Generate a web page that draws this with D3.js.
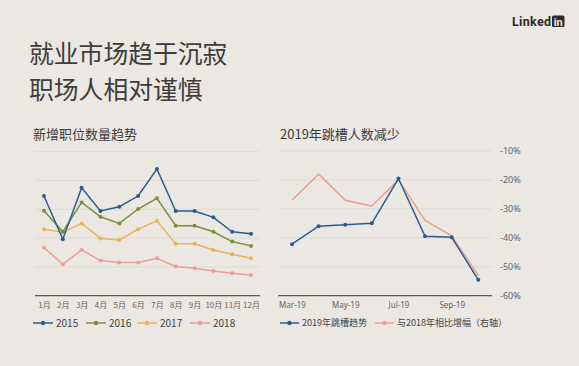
<!DOCTYPE html>
<html><head><meta charset="utf-8">
<script src="https://cdn.jsdelivr.net/npm/d3@7"></script>
<style>
html,body{margin:0;padding:0;background:#ebe7e2;}
svg{display:block;font-family:"Noto Sans CJK SC","Noto Sans",sans-serif;}
</style></head>
<body>
<svg id="c" width="579" height="366"></svg>
<script>
const months = ["1月","2月","3月","4月","5月","6月","7月","8月","9月","10月","11月","12月"];
const years = ["2015","2016","2017","2018"];
const s2015 = [3.46,1.96,3.75,2.94,3.09,3.46,4.40,2.94,2.94,2.72,2.22,2.15];
const s2016 = [2.95,2.22,3.24,2.74,2.51,3.01,3.38,2.43,2.43,2.22,1.88,1.73];
const s2017 = [2.31,2.20,2.51,1.99,1.93,2.31,2.60,1.80,1.80,1.59,1.44,1.30];
const s2018 = [1.67,1.09,1.59,1.22,1.15,1.15,1.30,1.01,0.95,0.86,0.78,0.72];
const rMonths = ["Mar-19","Apr-19","May-19","Jun-19","Jul-19","Aug-19","Sep-19","Oct-19"];
const rTickMonths = ["Mar-19","May-19","Jul-19","Sep-19"];
const trend2019 = [-42.2,-36.0,-35.5,-35.0,-19.5,-39.5,-39.8,-54.5];
const yoy2018 = [-27,-18,-27,-29,-20,-34,-39.3,-53];
const rTicks = [-10,-20,-30,-40,-50,-60];
const rSeriesNames = ["2019年跳槽趋势","与2018年相比增幅（右轴）"];
const titleLines = ["就业市场趋于沉寂","职场人相对谨慎"];

const colors = ["#2d5d90","#7c8f3b","#e8b455","#ec9f92"];
const rColors = ["#2d5d90","#eaa08f"];

const svg = d3.select("#c");
svg.append("rect").attr("width",579).attr("height",366).attr("fill","#ebe7e2");

// Title (one text block, two lines)
const title = svg.append("text").attr("x",29).attr("y",63).attr("font-size",24.8).attr("fill","#3d3d3d");
titleLines.forEach((t,i)=>title.append("tspan").attr("x",29).attr("dy",i===0?0:36.2).text(t));

// Logo
const logo = svg.append("g");
logo.append("text").attr("x",512).attr("y",26).attr("font-family","Roboto, 'Liberation Sans', sans-serif").attr("font-weight","bold").attr("font-size",12.5).attr("fill","#2b2b2b").attr("textLength",39).text("Linked");
logo.append("rect").attr("x",552).attr("y",15.5).attr("width",12.5).attr("height",11.5).attr("rx",1.5).attr("fill","#2b2b2b");
logo.append("text").attr("x",558.2).attr("y",25.5).attr("text-anchor","middle").attr("font-family","Roboto, 'Liberation Sans', sans-serif").attr("font-weight","bold").attr("font-size",11).attr("fill","#ebe7e2").text("in");

// Subtitles
svg.append("text").attr("x",33).attr("y",139).attr("font-size",13).attr("fill","#3b3b3b").text("新增职位数量趋势");
svg.append("text").attr("x",280).attr("y",139).attr("font-size",13).attr("fill","#3b3b3b").text("2019年跳槽人数减少");

// Left chart
const xL = d3.scalePoint().domain(months).range([44,251]);
const yL = d3.scaleLinear().domain([0,5]).range([295.7,151.7]);
const gL = svg.append("g");
gL.selectAll("line.grid").data([1,2,3,4,5]).join("line")
  .attr("x1",35).attr("x2",260).attr("y1",d=>yL(d)).attr("y2",d=>yL(d))
  .attr("stroke","#dcd7d1").attr("stroke-width",0.8);
const axL = gL.append("g").attr("transform",`translate(0,${yL(0)})`)
  .call(d3.axisBottom(xL).tickSize(0).tickPadding(5));
axL.select(".domain").attr("d","M35,0H260").attr("stroke","#5a5a5a").attr("stroke-width",1.2);
axL.selectAll("text").attr("font-size",8).attr("fill","#666").attr("font-family","'Noto Sans CJK SC',sans-serif").attr("dy","0.9em");

const seriesL = [s2015,s2016,s2017,s2018];
const lineL = d3.line().x((d,i)=>xL(months[i])).y(d=>yL(d));
[3,2,1,0].forEach(k=>{
  gL.append("path").datum(seriesL[k]).attr("d",lineL).attr("fill","none").attr("stroke",colors[k]).attr("stroke-width",1.5);
  gL.selectAll(null).data(seriesL[k]).join("circle").attr("cx",(d,i)=>xL(months[i])).attr("cy",d=>yL(d)).attr("r",2).attr("fill",colors[k]);
});

// Left legend
const legX = [33,86,137,190];
years.forEach((y,i)=>{
  const g = svg.append("g").attr("transform",`translate(${legX[i]},323)`);
  g.append("line").attr("x1",0).attr("x2",20).attr("stroke",colors[i]).attr("stroke-width",1.5);
  g.append("circle").attr("cx",10).attr("r",2.2).attr("fill",colors[i]);
  g.append("text").attr("x",23).attr("y",3.5).attr("font-size",10).attr("fill","#444").text(y);
});

// Right chart
const xR = d3.scalePoint().domain(rMonths).range([292,478.3]);
const yR = d3.scaleLinear().domain([-60,-10]).range([295.7,151]);
const gR = svg.append("g");
gR.selectAll("line.grid").data(rTicks.slice(0,5)).join("line")
  .attr("x1",278).attr("x2",492).attr("y1",d=>yR(d)).attr("y2",d=>yR(d))
  .attr("stroke","#dcd7d1").attr("stroke-width",0.8);
const axR = gR.append("g").attr("transform","translate(497,0)")
  .call(d3.axisRight(yR).tickValues(rTicks).tickFormat(d=>d+"%").tickSize(0).tickPadding(3));
axR.select(".domain").remove();
axR.selectAll("text").attr("font-size",9).attr("fill","#666").attr("font-family","'Noto Sans','Noto Sans CJK SC',sans-serif");
const axRB = gR.append("g").attr("transform",`translate(0,${yR(-60)})`)
  .call(d3.axisBottom(xR).tickValues(rTickMonths).tickSize(0).tickPadding(5));
axRB.select(".domain").attr("d","M278,0H492").attr("stroke","#5a5a5a").attr("stroke-width",1.2);
axRB.selectAll("text").attr("font-size",8).attr("fill","#666").attr("font-family","'Noto Sans',sans-serif").attr("dy","0.9em");

const lineR = d3.line().x((d,i)=>xR(rMonths[i])).y(d=>yR(d));
gR.append("path").datum(yoy2018).attr("d",lineR).attr("fill","none").attr("stroke",rColors[1]).attr("stroke-width",1.5);
gR.append("path").datum(trend2019).attr("d",lineR).attr("fill","none").attr("stroke",rColors[0]).attr("stroke-width",1.5);
gR.selectAll(null).data(trend2019).join("circle").attr("cx",(d,i)=>xR(rMonths[i])).attr("cy",d=>yR(d)).attr("r",2).attr("fill",rColors[0]);

// Right legend
const rLegX = [280,375];
rSeriesNames.forEach((n,i)=>{
  const g = svg.append("g").attr("transform",`translate(${rLegX[i]},323)`);
  g.append("line").attr("x1",0).attr("x2",19).attr("stroke",rColors[i]).attr("stroke-width",1.5);
  g.append("circle").attr("cx",9.5).attr("r",2.2).attr("fill",rColors[i]);
  g.append("text").attr("x",22).attr("y",3.3).attr("font-size",9).attr("fill","#444").text(n);
});
</script>
</body></html>
